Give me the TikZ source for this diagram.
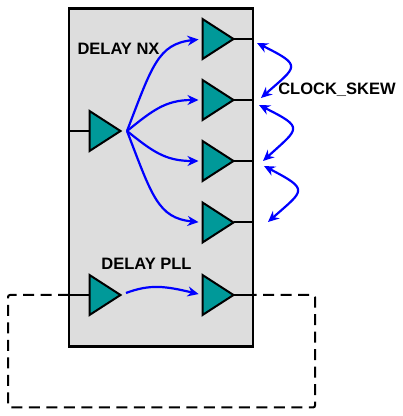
\documentclass[tikz,border=0pt]{standalone}
\usepackage{fontspec}
\setmainfont{Liberation Sans}
\usetikzlibrary{shapes.geometric,arrows.meta}
\tikzset{
  x=1pt,y=1pt,
  buf/.style={isosceles triangle,isosceles triangle stretches,shape border rotate=0,draw=black,fill=bufteal,line width=2pt,inner sep=0pt,outer sep=0pt,minimum height=31pt,minimum width=40pt,anchor=lower side,line join=miter},
  stub/.style={draw=black,line width=2pt},
  flow/.style={draw=flowblue,line width=2.2pt,-{Stealth[length=11pt,width=10pt]},shorten >=4pt},
  skew/.style={draw=flowblue,line width=2.2pt,{Stealth[length=11pt,width=10pt]}-{Stealth[length=11pt,width=10pt]}},
  loopline/.style={draw=black,line width=2pt,dash pattern=on 11pt off 6.5pt,rounded corners=2pt},
  lab/.style={font=\bfseries\fontsize{16.5}{18}\selectfont,text=black,inner sep=0pt}
}
\definecolor{bufteal}{HTML}{009999}
\definecolor{panelgray}{HTML}{DDDDDD}
\definecolor{flowblue}{HTML}{0000FF}
\begin{document}
\begin{tikzpicture}
\useasboundingbox (0,0) rectangle (403,416);
\node[draw=black,fill=panelgray,line width=2.6pt,minimum width=184pt,minimum height=338.5pt,inner sep=0pt,outer sep=0pt] (panel) at (161,238.5) {};
% nodes
\node[buf] (drv) at (89.5,285) {};
\node[buf] (o1) at (202.5,377) {};
\node[buf] (o2) at (202.5,316) {};
\node[buf] (o3) at (202.5,255) {};
\node[buf] (o4) at (202.5,193.5) {};
\node[buf] (pin) at (89.5,121) {};
\node[buf] (pout) at (202.5,121) {};
% free ends
\coordinate (inL) at (69,285);
\coordinate (o1R) at (253,377);
\coordinate (o2R) at (253,316);
\coordinate (o3R) at (253,255);
\coordinate (o4R) at (253,193.5);
\coordinate (pinL) at (69,121);
\coordinate (poutR) at (253,121);
\coordinate (loopBL) at (8,8.5);
\coordinate (loopBR) at (315,8.5);
\coordinate (fan) at (127,285);
\coordinate (pstart) at (126,123);
\coordinate (s1a) at (257,373);
\coordinate (s1b) at (261,318);
\coordinate (s2a) at (259,311);
\coordinate (s2b) at (263,255);
\coordinate (s3a) at (264,250);
\coordinate (s3b) at (268,194);
% stubs
\draw[stub] (inL) -- (drv.lower side);
\draw[stub] (o1.apex) -- (o1R);
\draw[stub] (o2.apex) -- (o2R);
\draw[stub] (o3.apex) -- (o3R);
\draw[stub] (o4.apex) -- (o4R);
\draw[stub] (pinL) -- (pin.lower side);
\draw[stub] (pout.apex) -- (poutR);
% loop
\draw[loopline] (pinL) -| (loopBL) -| (poutR -| loopBR) -- (poutR);
% fan-out
\draw[flow] (fan) .. controls (152,350) and (158,372) .. (o1.lower side);
\draw[flow] (fan) .. controls (152,305) and (165,316) .. (o2.lower side);
\draw[flow] (fan) .. controls (152,265) and (165,255) .. (o3.lower side);
\draw[flow] (fan) .. controls (152,220) and (158,198) .. (o4.lower side);
\draw[flow] (pstart) .. controls (150,132) and (165,130) .. (pout.lower side);
% skew
\draw[skew] (s1a) .. controls (303,350) and (297,350) .. (s1b);
\draw[skew] (s2a) .. controls (305,288) and (299,288) .. (s2b);
\draw[skew] (s3a) .. controls (310,226) and (304,226) .. (s3b);
% labels
\node[lab] (nx) at (118.5,367) {DELAY NX};
\node[lab] (pll) at (146.5,152) {DELAY PLL};
\node[lab] (skewlab) at (337,326) {CLOCK\_SKEW};
\end{tikzpicture}
\end{document}
